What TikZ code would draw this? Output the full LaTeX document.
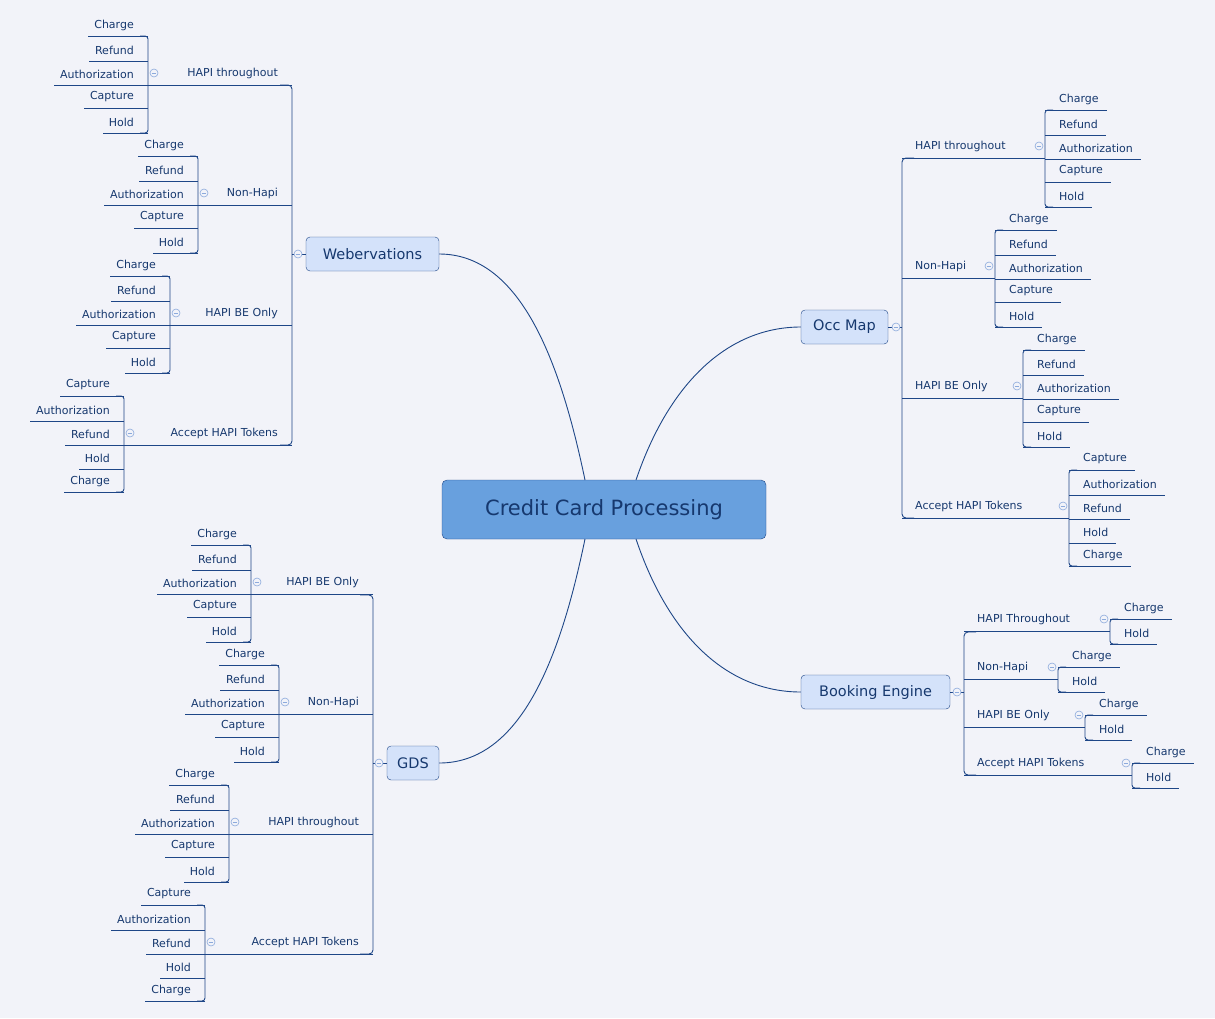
\documentclass[tikz,border=0pt]{standalone}
\usepackage{fontspec}
\setmainfont{DejaVu Sans}
\usetikzlibrary{calc}
\definecolor{bg}{RGB}{242,243,249}
\definecolor{tx}{RGB}{22,56,110}
\definecolor{lc}{RGB}{30,70,135}
\definecolor{cb}{RGB}{104,160,222}
\definecolor{sb}{RGB}{212,226,250}
\definecolor{ic}{RGB}{140,170,220}
\tikzset{
 ln/.style={draw=lc,line width=0.9pt},
 lf/.style={inner sep=0pt,text=tx,font=\fontsize{11}{13}\selectfont},
 icn/.style={circle,draw=ic,fill=bg,minimum size=8pt,inner sep=0pt,line width=0.6pt},
 mainbox/.style={rounded corners=4pt,draw=lc,fill=sb,text=tx,font=\fontsize{14.5}{17}\selectfont,inner sep=0pt},
}
\newcommand\icon[2]{\node[icn] at (#1,#2) {}; \draw[ic,line width=0.7pt] (#1-2.3,#2) -- (#1+2.3,#2);}
% right leaf group: bar x, first text y, last text y, list
\newcommand\RG[4]{%
 \draw[ln,rounded corners=3] (#1+8,#2+11) -- (#1,#2+11) -- (#1,#3+11) -- (#1+8,#3+11);
 \foreach \yy/\tt in {#4} {\node[lf,anchor=west] (r#1-\yy) at (#1+14,\yy) {\tt};
   \draw[ln] (#1,\yy+11) -- ($(r#1-\yy.east)+(8,11)$);}}
\newcommand\LG[4]{%
 \draw[ln,rounded corners=3] (#1-8,#2+11) -- (#1,#2+11) -- (#1,#3+11) -- (#1-8,#3+11);
 \foreach \yy/\tt in {#4} {\node[lf,anchor=east] (l#1-\yy) at (#1-14,\yy) {\tt};
   \draw[ln] (#1,\yy+11) -- ($(l#1-\yy.west)+(-6,11)$);}}
% right subgroup: trunk x, text y, bar x, text
\newcommand\RS[4]{\node[lf,anchor=west] (s#3-#2) at (#1+13,#2) {#4};
 \draw[ln] (#1,#2+12) -- (#3,#2+12); \icon{#3-6}{#2}}
\newcommand\LS[4]{\node[lf,anchor=east] (s#3-#2) at (#1-14,#2) {#4};
 \draw[ln] (#1,#2+12) -- (#3,#2+12); \icon{#3+6}{#2}}
\begin{document}
\begin{tikzpicture}[x=1pt,y=-1pt]
\fill[bg] (0,0) rectangle (1215,1018);
\useasboundingbox (0,0) rectangle (1215,1018);
% central
\node[rounded corners=5pt,draw=lc,fill=cb,text=tx,minimum width=324pt,minimum height=59pt,font=\fontsize{21}{24}\selectfont] (cc) at (604,509.5) {Credit Card Processing};
\node[mainbox,minimum width=133pt,minimum height=34pt] (web) at (372.5,254) {Webervations};
\node[mainbox,minimum width=87pt,minimum height=34pt] (occ) at (844.5,327) {Occ Map};
\node[mainbox,minimum width=149pt,minimum height=34pt] (be) at (875.5,692) {Booking Engine};
\node[mainbox,minimum width=52pt,minimum height=34pt] (gds) at (413,763) {GDS};
\draw[ln] (585,480) .. controls (560,360) and (520,254) .. (web.east);
\draw[ln] (636,480) .. controls (670,380) and (730,327) .. (occ.west);
\draw[ln] (636,539) .. controls (670,640) and (730,692) .. (be.west);
\draw[ln] (585,539) .. controls (560,660) and (520,763) .. (gds.east);
% Webervations
\draw[ln,rounded corners=4] (280,85) -- (292,85) -- (292,445) -- (280,445);
\draw[ln] (292,254) -- (web.west); \icon{298}{254}
\LS{292}{73}{148}{HAPI throughout}
\LG{148}{25}{122}{25/Charge,50/Refund,74/Authorization,97/Capture,122/Hold}
\LS{292}{193}{198}{Non-Hapi}
\LG{198}{145}{242}{145/Charge,170/Refund,194/Authorization,217/Capture,242/Hold}
\LS{292}{313}{170}{HAPI BE Only}
\LG{170}{265}{362}{265/Charge,290/Refund,314/Authorization,337/Capture,362/Hold}
\LS{292}{433}{124}{Accept HAPI Tokens}
\LG{124}{385}{481}{385/Capture,410/Authorization,434/Refund,458/Hold,481/Charge}
% GDS
\draw[ln,rounded corners=4] (360,595) -- (373,595) -- (373,954) -- (360,954);
\draw[ln] (373,763) -- (gds.west); \icon{379}{763}
\LS{373}{582}{251}{HAPI BE Only}
\LG{251}{534}{631}{534/Charge,559/Refund,583/Authorization,606/Capture,631/Hold}
\LS{373}{702}{279}{Non-Hapi}
\LG{279}{654}{751}{654/Charge,679/Refund,703/Authorization,726/Capture,751/Hold}
\LS{373}{822}{229}{HAPI throughout}
\LG{229}{774}{871}{774/Charge,799/Refund,823/Authorization,846/Capture,871/Hold}
\LS{373}{942}{205}{Accept HAPI Tokens}
\LG{205}{894}{990}{894/Capture,919/Authorization,943/Refund,967/Hold,990/Charge}
% Occ Map
\draw[ln,rounded corners=4] (914,158) -- (902,158) -- (902,518) -- (914,518);
\draw[ln] (902,327) -- (occ.east); \icon{896}{327}
\RS{902}{146}{1045}{HAPI throughout}
\RG{1045}{99}{196}{99/Charge,124/Refund,148/Authorization,171/Capture,196/Hold}
\RS{902}{266}{995}{Non-Hapi}
\RG{995}{219}{316}{219/Charge,244/Refund,268/Authorization,291/Capture,316/Hold}
\RS{902}{386}{1023}{HAPI BE Only}
\RG{1023}{339}{436}{339/Charge,364/Refund,388/Authorization,411/Capture,436/Hold}
\RS{902}{506}{1069}{Accept HAPI Tokens}
\RG{1069}{459}{555}{459/Capture,484/Authorization,508/Refund,532/Hold,555/Charge}
% Booking Engine
\draw[ln,rounded corners=4] (976,632) -- (964,632) -- (964,775) -- (976,775);
\draw[ln] (964,692) -- (be.east); \icon{957}{692}
\RS{964}{619}{1110}{HAPI Throughout}
\RG{1110}{608}{633}{608/Charge,633/Hold}
\RS{964}{667}{1058}{Non-Hapi}
\RG{1058}{656}{681}{656/Charge,681/Hold}
\RS{964}{715}{1085}{HAPI BE Only}
\RG{1085}{704}{729}{704/Charge,729/Hold}
\RS{964}{763}{1132}{Accept HAPI Tokens}
\RG{1132}{752}{777}{752/Charge,777/Hold}
\end{tikzpicture}
\end{document}
